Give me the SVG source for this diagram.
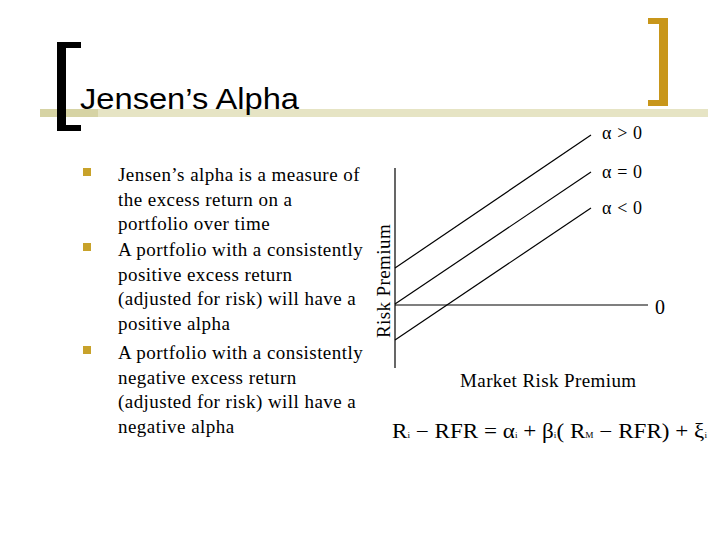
<svg xmlns="http://www.w3.org/2000/svg" width="728" height="546" viewBox="0 0 728 546">
<style>
.t{font-family:"Liberation Serif",serif;font-size:19px;letter-spacing:0.45px;fill:#000}
.g{font-family:"Liberation Serif",serif;font-size:18px;letter-spacing:0.6px;fill:#000}
.a{font-family:"Liberation Serif",serif;font-size:19px;letter-spacing:0.4px;fill:#000}
.ln{stroke:#000;stroke-width:1.2;fill:none}
.b{fill:#c8a22a}
</style>
<rect width="728" height="546" fill="#fff"/>
<g id="title">
<rect x="40" y="109" width="668" height="8" fill="#e6e4c4"/>
<rect x="40" y="109" width="58" height="8" fill="#d6d3a4"/>
<path d="M81,42 H57 V131 H81 V125 H66 V48 H81 Z" fill="#000"/>
<path d="M648,18 H668 V106 H648 V100 H659 V24 H648 Z" fill="#c8961a"/>
<text x="80" y="109" font-family="Liberation Sans,Arial,sans-serif" font-size="29" fill="#000" textLength="219" lengthAdjust="spacingAndGlyphs">Jensen’s Alpha</text>
</g>
<g id="bullets">
<rect class="b" x="83" y="168" width="8" height="8"/>
<rect class="b" x="83" y="243" width="8" height="8"/>
<rect class="b" x="83" y="346" width="8" height="8"/>
<text class="t" x="118" y="181">Jensen’s alpha is a measure of</text>
<text class="t" x="118" y="206">the excess return on a</text>
<text class="t" x="118" y="230">portfolio over time</text>
<text class="t" x="118" y="256">A portfolio with a consistently</text>
<text class="t" x="118" y="281">positive excess return</text>
<text class="t" x="118" y="305">(adjusted for risk) will have a</text>
<text class="t" x="118" y="330">positive alpha</text>
<text class="t" x="118" y="359">A portfolio with a consistently</text>
<text class="t" x="118" y="384">negative excess return</text>
<text class="t" x="118" y="408">(adjusted for risk) will have a</text>
<text class="t" x="118" y="433">negative alpha</text>
</g>
<g id="connectors">
<line class="ln" x1="395" y1="168" x2="395" y2="368"/>
<line class="ln" x1="395" y1="305" x2="648" y2="305"/>
<line class="ln" x1="395" y1="268" x2="591" y2="135"/>
<line class="ln" x1="395" y1="304" x2="591" y2="172"/>
<line class="ln" x1="395" y1="340" x2="591" y2="208"/>
</g>
<g id="labels">
<text class="g" x="602" y="139">α &gt; 0</text>
<text class="g" x="602" y="178">α = 0</text>
<text class="g" x="602" y="214">α &lt; 0</text>
<text x="655" y="314" font-family="Liberation Serif,serif" font-size="20">0</text>
<text class="a" transform="translate(390,338) rotate(-90)">Risk Premium</text>
<text class="a" x="460" y="387">Market Risk Premium</text>
<text x="392" y="438" font-family="Liberation Serif,serif" font-size="20" textLength="315" lengthAdjust="spacingAndGlyphs">R<tspan font-size="8">i</tspan> − RFR = α<tspan font-size="8">i</tspan> + β<tspan font-size="8">i</tspan>( R<tspan font-size="8">M</tspan> − RFR) + ξ<tspan font-size="8">i</tspan></text>
</g>
</svg>
